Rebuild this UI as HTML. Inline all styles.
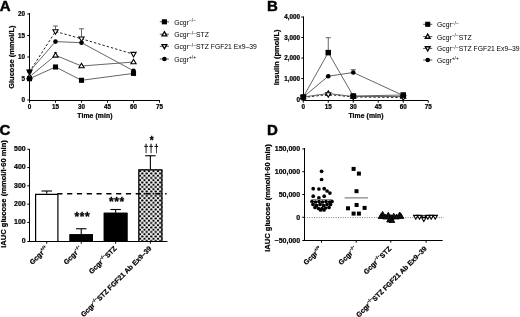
<!DOCTYPE html>
<html><head><meta charset="utf-8"><style>
html,body{margin:0;padding:0;background:#fff;width:520px;height:317px;overflow:hidden}
svg{display:block}
</style></head><body>
<svg width="520" height="317" viewBox="0 0 520 317" font-family='"Liberation Sans", Arial, sans-serif'>
<rect width="520" height="317" fill="#fff"/>
<defs><pattern id="chk" x="140" y="180.2" width="4.49" height="4.5" patternUnits="userSpaceOnUse"><rect width="4.49" height="4.5" fill="#fff"/><circle cx="0" cy="0" r="1.2" fill="#000"/><circle cx="4.49" cy="0" r="1.2" fill="#000"/><circle cx="0" cy="4.5" r="1.2" fill="#000"/><circle cx="4.49" cy="4.5" r="1.2" fill="#000"/><circle cx="2.245" cy="2.25" r="1.2" fill="#000"/></pattern></defs>
<text x="-0.3" y="10.5" font-size="15" font-weight="bold" text-anchor="start" stroke="#000" stroke-width="0.45">A</text>
<line x1="29.5" y1="13" x2="29.5" y2="101.0" stroke="#000" stroke-width="1"/>
<line x1="29.0" y1="100.5" x2="160" y2="100.5" stroke="#000" stroke-width="1"/>
<line x1="27.3" y1="100.0" x2="29.5" y2="100.0" stroke="#000" stroke-width="1"/>
<text x="25.1" y="102.1" font-size="6.3" font-weight="bold" text-anchor="end"  stroke="#000" stroke-width="0.22">0</text>
<line x1="27.3" y1="78.5" x2="29.5" y2="78.5" stroke="#000" stroke-width="1"/>
<text x="25.1" y="80.6" font-size="6.3" font-weight="bold" text-anchor="end"  stroke="#000" stroke-width="0.22">5</text>
<line x1="27.3" y1="57.0" x2="29.5" y2="57.0" stroke="#000" stroke-width="1"/>
<text x="25.1" y="59.1" font-size="6.3" font-weight="bold" text-anchor="end"  stroke="#000" stroke-width="0.22">10</text>
<line x1="27.3" y1="35.5" x2="29.5" y2="35.5" stroke="#000" stroke-width="1"/>
<text x="25.1" y="37.6" font-size="6.3" font-weight="bold" text-anchor="end"  stroke="#000" stroke-width="0.22">15</text>
<line x1="27.3" y1="14.0" x2="29.5" y2="14.0" stroke="#000" stroke-width="1"/>
<text x="25.1" y="16.1" font-size="6.3" font-weight="bold" text-anchor="end"  stroke="#000" stroke-width="0.22">20</text>
<line x1="29.5" y1="100.5" x2="29.5" y2="102.7" stroke="#000" stroke-width="1"/>
<text x="29.5" y="109.0" font-size="6.3" font-weight="bold" text-anchor="middle"  stroke="#000" stroke-width="0.22">0</text>
<line x1="55.5" y1="100.5" x2="55.5" y2="102.7" stroke="#000" stroke-width="1"/>
<text x="55.5" y="109.0" font-size="6.3" font-weight="bold" text-anchor="middle"  stroke="#000" stroke-width="0.22">15</text>
<line x1="81.5" y1="100.5" x2="81.5" y2="102.7" stroke="#000" stroke-width="1"/>
<text x="81.5" y="109.0" font-size="6.3" font-weight="bold" text-anchor="middle"  stroke="#000" stroke-width="0.22">30</text>
<line x1="107.5" y1="100.5" x2="107.5" y2="102.7" stroke="#000" stroke-width="1"/>
<text x="107.5" y="109.0" font-size="6.3" font-weight="bold" text-anchor="middle"  stroke="#000" stroke-width="0.22">45</text>
<line x1="133.5" y1="100.5" x2="133.5" y2="102.7" stroke="#000" stroke-width="1"/>
<text x="133.5" y="109.0" font-size="6.3" font-weight="bold" text-anchor="middle"  stroke="#000" stroke-width="0.22">60</text>
<line x1="159.5" y1="100.5" x2="159.5" y2="102.7" stroke="#000" stroke-width="1"/>
<text x="159.5" y="109.0" font-size="6.3" font-weight="bold" text-anchor="middle"  stroke="#000" stroke-width="0.22">75</text>
<text x="94.9" y="118.0" font-size="6.8" font-weight="bold" text-anchor="middle" letter-spacing="0.1" stroke="#000" stroke-width="0.22">Time (min)</text>
<text x="0" y="0" font-size="7.5" font-weight="bold" text-anchor="middle" transform="translate(14.1,57.2) rotate(-90)" stroke="#000" stroke-width="0.22">Glucose (mmol/L)</text>
<polyline points="29.50,71.80 55.50,31.50 81.50,38.80 133.50,54.20" fill="none" stroke="#222" stroke-width="1.0" stroke-dasharray="2.4,2"/>
<polyline points="29.50,76.80 55.50,55.30 81.50,66.00 133.50,62.00" fill="none" stroke="#555" stroke-width="0.9"/>
<polyline points="29.50,71.50 55.50,41.60 81.50,42.70 133.50,70.80" fill="none" stroke="#555" stroke-width="0.9"/>
<polyline points="29.50,78.70 55.50,67.00 81.50,80.30 133.50,73.40" fill="none" stroke="#555" stroke-width="0.9"/>
<line x1="55.5" y1="31.5" x2="55.5" y2="26" stroke="#555" stroke-width="0.9"/>
<line x1="53.0" y1="26" x2="58.0" y2="26" stroke="#555" stroke-width="0.9"/>
<line x1="81.5" y1="38.8" x2="81.5" y2="28.8" stroke="#555" stroke-width="0.9"/>
<line x1="79.0" y1="28.8" x2="84.0" y2="28.8" stroke="#555" stroke-width="0.9"/>
<line x1="55.5" y1="55.3" x2="55.5" y2="52.5" stroke="#555" stroke-width="0.9"/>
<line x1="54.0" y1="52.5" x2="57.0" y2="52.5" stroke="#555" stroke-width="0.9"/>
<polygon points="29.50,74.09 32.10,78.61 26.90,78.61" fill="#fff" stroke="#000" stroke-width="1.1"/>
<polygon points="55.50,52.59 58.10,57.11 52.90,57.11" fill="#fff" stroke="#000" stroke-width="1.1"/>
<polygon points="81.50,63.29 84.10,67.81 78.90,67.81" fill="#fff" stroke="#000" stroke-width="1.1"/>
<polygon points="133.50,59.29 136.10,63.81 130.90,63.81" fill="#fff" stroke="#000" stroke-width="1.1"/>
<polygon points="29.50,74.51 32.10,69.99 26.90,69.99" fill="#fff" stroke="#000" stroke-width="1.1"/>
<polygon points="55.50,34.21 58.10,29.69 52.90,29.69" fill="#fff" stroke="#000" stroke-width="1.1"/>
<polygon points="81.50,41.51 84.10,36.99 78.90,36.99" fill="#fff" stroke="#000" stroke-width="1.1"/>
<polygon points="133.50,56.91 136.10,52.39 130.90,52.39" fill="#fff" stroke="#000" stroke-width="1.1"/>
<circle cx="29.50" cy="71.50" r="2.3" fill="#000"/>
<circle cx="55.50" cy="41.60" r="2.3" fill="#000"/>
<circle cx="81.50" cy="42.70" r="2.3" fill="#000"/>
<circle cx="133.50" cy="70.80" r="2.3" fill="#000"/>
<rect x="26.95" y="76.15" width="5.1" height="5.1" fill="#000"/>
<rect x="52.95" y="64.45" width="5.1" height="5.1" fill="#000"/>
<rect x="78.95" y="77.75" width="5.1" height="5.1" fill="#000"/>
<rect x="130.95" y="70.85" width="5.1" height="5.1" fill="#000"/>
<line x1="159.8" y1="21.8" x2="169.0" y2="21.8" stroke="#444" stroke-width="0.9"/>
<rect x="161.85" y="19.25" width="5.1" height="5.1" fill="#000"/>
<line x1="159.8" y1="34.2" x2="169.0" y2="34.2" stroke="#444" stroke-width="0.9"/>
<polygon points="164.40,31.69 166.80,35.87 162.00,35.87" fill="#fff" stroke="#000" stroke-width="1.3"/>
<line x1="159.8" y1="46.3" x2="169.0" y2="46.3" stroke="#444" stroke-width="0.9"/>
<polygon points="164.40,48.81 166.80,44.63 162.00,44.63" fill="#fff" stroke="#000" stroke-width="1.3"/>
<line x1="159.8" y1="59" x2="169.0" y2="59" stroke="#444" stroke-width="0.9"/>
<circle cx="164.40" cy="59.00" r="2.3" fill="#000"/>
<text x="174.2" y="24.7" font-size="6.8" font-weight="normal" text-anchor="start" >Gcgr<tspan dy="-2.58" font-size="4.90">−/−</tspan></text>
<text x="174.2" y="37.1" font-size="6.8" font-weight="normal" text-anchor="start" >Gcgr<tspan dy="-2.58" font-size="4.90">−/−</tspan><tspan dy="2.58">STZ</tspan></text>
<text x="174.2" y="49.199999999999996" font-size="6.8" font-weight="normal" text-anchor="start" >Gcgr<tspan dy="-2.58" font-size="4.90">−/−</tspan><tspan dy="2.58">STZ FGF21 Ex9–39</tspan></text>
<text x="174.2" y="61.9" font-size="6.8" font-weight="normal" text-anchor="start" >Gcgr<tspan dy="-2.58" font-size="4.90">+/+</tspan></text>
<text x="267" y="10.6" font-size="15" font-weight="bold" text-anchor="start" stroke="#000" stroke-width="0.45">B</text>
<line x1="303.5" y1="16.5" x2="303.5" y2="101.0" stroke="#000" stroke-width="1"/>
<line x1="303.0" y1="100.5" x2="428" y2="100.5" stroke="#000" stroke-width="1"/>
<line x1="301.3" y1="100.0" x2="303.5" y2="100.0" stroke="#000" stroke-width="1"/>
<text x="300.0" y="102.1" font-size="6.3" font-weight="bold" text-anchor="end"  stroke="#000" stroke-width="0.22">0</text>
<line x1="301.3" y1="78.5" x2="303.5" y2="78.5" stroke="#000" stroke-width="1"/>
<text x="300.0" y="80.6" font-size="6.3" font-weight="bold" text-anchor="end"  stroke="#000" stroke-width="0.22">1,000</text>
<line x1="301.3" y1="58.0" x2="303.5" y2="58.0" stroke="#000" stroke-width="1"/>
<text x="300.0" y="60.1" font-size="6.3" font-weight="bold" text-anchor="end"  stroke="#000" stroke-width="0.22">2,000</text>
<line x1="301.3" y1="37.5" x2="303.5" y2="37.5" stroke="#000" stroke-width="1"/>
<text x="300.0" y="39.6" font-size="6.3" font-weight="bold" text-anchor="end"  stroke="#000" stroke-width="0.22">3,000</text>
<line x1="301.3" y1="17.0" x2="303.5" y2="17.0" stroke="#000" stroke-width="1"/>
<text x="300.0" y="19.1" font-size="6.3" font-weight="bold" text-anchor="end"  stroke="#000" stroke-width="0.22">4,000</text>
<line x1="303.25" y1="100.5" x2="303.25" y2="102.7" stroke="#000" stroke-width="1"/>
<text x="303.25" y="109.0" font-size="6.3" font-weight="bold" text-anchor="middle"  stroke="#000" stroke-width="0.22">0</text>
<line x1="328.25" y1="100.5" x2="328.25" y2="102.7" stroke="#000" stroke-width="1"/>
<text x="328.25" y="109.0" font-size="6.3" font-weight="bold" text-anchor="middle"  stroke="#000" stroke-width="0.22">15</text>
<line x1="353.25" y1="100.5" x2="353.25" y2="102.7" stroke="#000" stroke-width="1"/>
<text x="353.25" y="109.0" font-size="6.3" font-weight="bold" text-anchor="middle"  stroke="#000" stroke-width="0.22">30</text>
<line x1="378.25" y1="100.5" x2="378.25" y2="102.7" stroke="#000" stroke-width="1"/>
<text x="378.25" y="109.0" font-size="6.3" font-weight="bold" text-anchor="middle"  stroke="#000" stroke-width="0.22">45</text>
<line x1="403.25" y1="100.5" x2="403.25" y2="102.7" stroke="#000" stroke-width="1"/>
<text x="403.25" y="109.0" font-size="6.3" font-weight="bold" text-anchor="middle"  stroke="#000" stroke-width="0.22">60</text>
<line x1="428.25" y1="100.5" x2="428.25" y2="102.7" stroke="#000" stroke-width="1"/>
<text x="428.25" y="109.0" font-size="6.3" font-weight="bold" text-anchor="middle"  stroke="#000" stroke-width="0.22">75</text>
<text x="366.1" y="117.6" font-size="6.8" font-weight="bold" text-anchor="middle" letter-spacing="0.1" stroke="#000" stroke-width="0.22">Time (min)</text>
<text x="0" y="0" font-size="7.5" font-weight="bold" text-anchor="middle" transform="translate(279,57.4) rotate(-90)" stroke="#000" stroke-width="0.22">Insulin (pmol/L)</text>
<polyline points="303.25,97.50 328.25,94.50 353.25,97.00 403.25,97.50" fill="none" stroke="#222" stroke-width="1.0" stroke-dasharray="2.4,2"/>
<polyline points="303.25,97.00 328.25,93.50 353.25,96.50 403.25,96.50" fill="none" stroke="#555" stroke-width="0.9"/>
<polyline points="303.25,97.00 328.25,76.20 353.25,72.50 403.25,95.50" fill="none" stroke="#555" stroke-width="0.9"/>
<polyline points="303.25,97.00 328.25,52.60 353.25,96.00 403.25,95.00" fill="none" stroke="#555" stroke-width="0.9"/>
<line x1="328.25" y1="52.6" x2="328.25" y2="37.7" stroke="#555" stroke-width="0.9"/>
<line x1="325.75" y1="37.7" x2="330.75" y2="37.7" stroke="#555" stroke-width="0.9"/>
<line x1="353.25" y1="72.5" x2="353.25" y2="69.7" stroke="#555" stroke-width="0.9"/>
<line x1="350.75" y1="69.7" x2="355.75" y2="69.7" stroke="#555" stroke-width="0.9"/>
<polygon points="303.25,94.29 305.85,98.81 300.65,98.81" fill="#fff" stroke="#000" stroke-width="1.1"/>
<polygon points="328.25,90.79 330.85,95.31 325.65,95.31" fill="#fff" stroke="#000" stroke-width="1.1"/>
<polygon points="353.25,93.79 355.85,98.31 350.65,98.31" fill="#fff" stroke="#000" stroke-width="1.1"/>
<polygon points="403.25,93.79 405.85,98.31 400.65,98.31" fill="#fff" stroke="#000" stroke-width="1.1"/>
<polygon points="303.25,100.21 305.85,95.69 300.65,95.69" fill="#fff" stroke="#000" stroke-width="1.1"/>
<polygon points="328.25,97.21 330.85,92.69 325.65,92.69" fill="#fff" stroke="#000" stroke-width="1.1"/>
<polygon points="353.25,99.71 355.85,95.19 350.65,95.19" fill="#fff" stroke="#000" stroke-width="1.1"/>
<polygon points="403.25,100.21 405.85,95.69 400.65,95.69" fill="#fff" stroke="#000" stroke-width="1.1"/>
<circle cx="303.25" cy="97.00" r="2.3" fill="#000"/>
<circle cx="328.25" cy="76.20" r="2.3" fill="#000"/>
<circle cx="353.25" cy="72.50" r="2.3" fill="#000"/>
<circle cx="403.25" cy="95.50" r="2.3" fill="#000"/>
<rect x="300.50" y="94.25" width="5.5" height="5.5" fill="#000"/>
<rect x="325.50" y="49.85" width="5.5" height="5.5" fill="#000"/>
<rect x="350.50" y="93.25" width="5.5" height="5.5" fill="#000"/>
<rect x="400.50" y="92.25" width="5.5" height="5.5" fill="#000"/>
<line x1="423.09999999999997" y1="24.3" x2="432.3" y2="24.3" stroke="#444" stroke-width="0.9"/>
<rect x="425.15" y="21.75" width="5.1" height="5.1" fill="#000"/>
<line x1="423.09999999999997" y1="36.6" x2="432.3" y2="36.6" stroke="#444" stroke-width="0.9"/>
<polygon points="427.70,34.09 430.10,38.27 425.30,38.27" fill="#fff" stroke="#000" stroke-width="1.3"/>
<line x1="423.09999999999997" y1="48.4" x2="432.3" y2="48.4" stroke="#444" stroke-width="0.9"/>
<polygon points="427.70,50.91 430.10,46.73 425.30,46.73" fill="#fff" stroke="#000" stroke-width="1.3"/>
<line x1="423.09999999999997" y1="60.0" x2="432.3" y2="60.0" stroke="#444" stroke-width="0.9"/>
<circle cx="427.70" cy="60.00" r="2.3" fill="#000"/>
<text x="437" y="27.2" font-size="6.8" font-weight="normal" text-anchor="start" >Gcgr<tspan dy="-2.58" font-size="4.90">−/−</tspan></text>
<text x="437" y="39.5" font-size="6.8" font-weight="normal" text-anchor="start" >Gcgr<tspan dy="-2.58" font-size="4.90">−/−</tspan><tspan dy="2.58">STZ</tspan></text>
<text x="437" y="51.3" font-size="6.8" font-weight="normal" text-anchor="start" >Gcgr<tspan dy="-2.58" font-size="4.90">−/−</tspan><tspan dy="2.58">STZ FGF21 Ex9–39</tspan></text>
<text x="437" y="62.9" font-size="6.8" font-weight="normal" text-anchor="start" >Gcgr<tspan dy="-2.58" font-size="4.90">+/+</tspan></text>
<text x="-0.6" y="135.1" font-size="15" font-weight="bold" text-anchor="start" stroke="#000" stroke-width="0.45">C</text>
<line x1="29.5" y1="149" x2="29.5" y2="242.0" stroke="#000" stroke-width="1"/>
<line x1="29.0" y1="241.5" x2="167.5" y2="241.5" stroke="#000" stroke-width="1"/>
<line x1="27.3" y1="241.5" x2="29.5" y2="241.5" stroke="#000" stroke-width="1"/>
<text x="25.7" y="242.65" font-size="7" font-weight="bold" text-anchor="end"  stroke="#000" stroke-width="0.22">0</text>
<line x1="27.3" y1="222.45" x2="29.5" y2="222.45" stroke="#000" stroke-width="1"/>
<text x="25.7" y="224.35" font-size="7" font-weight="bold" text-anchor="end"  stroke="#000" stroke-width="0.22">100</text>
<line x1="27.3" y1="204.15" x2="29.5" y2="204.15" stroke="#000" stroke-width="1"/>
<text x="25.7" y="206.05" font-size="7" font-weight="bold" text-anchor="end"  stroke="#000" stroke-width="0.22">200</text>
<line x1="27.3" y1="185.85" x2="29.5" y2="185.85" stroke="#000" stroke-width="1"/>
<text x="25.7" y="187.75" font-size="7" font-weight="bold" text-anchor="end"  stroke="#000" stroke-width="0.22">300</text>
<line x1="27.3" y1="167.55" x2="29.5" y2="167.55" stroke="#000" stroke-width="1"/>
<text x="25.7" y="169.45000000000002" font-size="7" font-weight="bold" text-anchor="end"  stroke="#000" stroke-width="0.22">400</text>
<line x1="27.3" y1="149.25" x2="29.5" y2="149.25" stroke="#000" stroke-width="1"/>
<text x="25.7" y="151.15" font-size="7" font-weight="bold" text-anchor="end"  stroke="#000" stroke-width="0.22">500</text>
<text x="0" y="0" font-size="7.6" font-weight="bold" text-anchor="middle" transform="translate(5.9,194) rotate(-90)" stroke="#000" stroke-width="0.22">iAUC glucose (mmol/l·60 min)</text>
<line x1="46.75" y1="193.75" x2="46.75" y2="191" stroke="#000" stroke-width="1.1"/>
<line x1="41.5" y1="191" x2="52.0" y2="191" stroke="#000" stroke-width="1.1"/>
<rect x="35" y="193.75" width="23.5" height="47.25" fill="#fff"/>
<path d="M35.6,241.0 V194.35 H57.9 V241.0" fill="none" stroke="#000" stroke-width="1.2"/>
<line x1="46.75" y1="241.5" x2="46.75" y2="243.7" stroke="#000" stroke-width="1"/>
<line x1="81.25" y1="234.25" x2="81.25" y2="228.75" stroke="#000" stroke-width="1.1"/>
<line x1="76.0" y1="228.75" x2="86.5" y2="228.75" stroke="#000" stroke-width="1.1"/>
<rect x="69.5" y="234.25" width="23.5" height="6.75" fill="#000"/>
<path d="M70.1,241.0 V234.85 H92.4 V241.0" fill="none" stroke="#000" stroke-width="1.2"/>
<line x1="81.25" y1="241.5" x2="81.25" y2="243.7" stroke="#000" stroke-width="1"/>
<line x1="115.625" y1="212.75" x2="115.625" y2="209.5" stroke="#000" stroke-width="1.1"/>
<line x1="110.375" y1="209.5" x2="120.875" y2="209.5" stroke="#000" stroke-width="1.1"/>
<rect x="103.75" y="212.75" width="23.75" height="28.25" fill="#000"/>
<path d="M104.35,241.0 V213.35 H126.9 V241.0" fill="none" stroke="#000" stroke-width="1.2"/>
<line x1="115.625" y1="241.5" x2="115.625" y2="243.7" stroke="#000" stroke-width="1"/>
<line x1="150.375" y1="169.25" x2="150.375" y2="155.75" stroke="#000" stroke-width="1.1"/>
<line x1="145.125" y1="155.75" x2="155.625" y2="155.75" stroke="#000" stroke-width="1.1"/>
<rect x="138.25" y="169.25" width="24.25" height="71.75" fill="url(#chk)"/>
<path d="M138.85,241.0 V169.85 H161.9 V241.0" fill="none" stroke="#000" stroke-width="1.2"/>
<line x1="150.375" y1="241.5" x2="150.375" y2="243.7" stroke="#000" stroke-width="1"/>
<line x1="57.3" y1="193.8" x2="166.5" y2="193.8" stroke="#000" stroke-width="1.6" stroke-dasharray="5.2,4.6"/>
<text x="82.4" y="221.3" font-size="12" font-weight="bold" text-anchor="middle" letter-spacing="0.6" stroke="#000" stroke-width="0.3">***</text>
<text x="116.9" y="205.9" font-size="12" font-weight="bold" text-anchor="middle" letter-spacing="0.6" stroke="#000" stroke-width="0.3">***</text>
<text x="0" y="0" font-size="10" font-weight="normal" text-anchor="middle" letter-spacing="1.3" stroke="#000" stroke-width="0.35" transform="translate(151.7,151.8) scale(0.75,1)">†††</text>
<text x="151.6" y="143.6" font-size="10" font-weight="bold" text-anchor="middle" stroke="#000" stroke-width="0.3">*</text>
<text x="0" y="0" font-size="7" font-weight="bold" text-anchor="end" transform="translate(48.5,249) rotate(-45)" stroke="#000" stroke-width="0.22">Gcgr<tspan dy="-3.15" font-size="4.34">+/+</tspan></text>
<text x="0" y="0" font-size="7" font-weight="bold" text-anchor="end" transform="translate(82.5,249) rotate(-45)" stroke="#000" stroke-width="0.22">Gcgr<tspan dy="-3.15" font-size="4.34">−/−</tspan></text>
<text x="0" y="0" font-size="7" font-weight="bold" text-anchor="end" transform="translate(117,249) rotate(-45)" stroke="#000" stroke-width="0.22">Gcgr<tspan dy="-3.15" font-size="4.34">−/−</tspan><tspan dy="3.15">STZ</tspan></text>
<text x="0" y="0" font-size="7" font-weight="bold" text-anchor="end" transform="translate(152,249) rotate(-45)" stroke="#000" stroke-width="0.22">Gcgr<tspan dy="-3.15" font-size="4.34">−/−</tspan><tspan dy="3.15">STZ FGF21 Ab Ex9–39</tspan></text>
<text x="267" y="135.1" font-size="15" font-weight="bold" text-anchor="start" stroke="#000" stroke-width="0.45">D</text>
<line x1="304.5" y1="148" x2="304.5" y2="241.0" stroke="#000" stroke-width="1"/>
<line x1="304.0" y1="240.5" x2="442.7" y2="240.5" stroke="#000" stroke-width="1"/>
<line x1="302.3" y1="148.9" x2="304.5" y2="148.9" stroke="#000" stroke-width="1"/>
<text x="300.1" y="151.3" font-size="7" font-weight="bold" text-anchor="end"  stroke="#000" stroke-width="0.22">150,000</text>
<line x1="302.3" y1="171.70000000000002" x2="304.5" y2="171.70000000000002" stroke="#000" stroke-width="1"/>
<text x="300.1" y="174.10000000000002" font-size="7" font-weight="bold" text-anchor="end"  stroke="#000" stroke-width="0.22">100,000</text>
<line x1="302.3" y1="194.5" x2="304.5" y2="194.5" stroke="#000" stroke-width="1"/>
<text x="300.1" y="196.9" font-size="7" font-weight="bold" text-anchor="end"  stroke="#000" stroke-width="0.22">50,000</text>
<line x1="302.3" y1="217.3" x2="304.5" y2="217.3" stroke="#000" stroke-width="1"/>
<text x="300.1" y="219.70000000000002" font-size="7" font-weight="bold" text-anchor="end"  stroke="#000" stroke-width="0.22">0</text>
<line x1="302.3" y1="240.5" x2="304.5" y2="240.5" stroke="#000" stroke-width="1"/>
<text x="300.1" y="242.9" font-size="7" font-weight="bold" text-anchor="end"  stroke="#000" stroke-width="0.22">−50,000</text>
<text x="0" y="0" font-size="7.6" font-weight="bold" text-anchor="middle" transform="translate(269.6,198) rotate(-90)" stroke="#000" stroke-width="0.22">iAUC glucose (mmol/l·60 min)</text>
<line x1="304.5" y1="217.6" x2="444" y2="217.6" stroke="#333" stroke-width="0.8" stroke-dasharray="0.8,1.6"/>
<line x1="321.5" y1="240.5" x2="321.5" y2="242.7" stroke="#000" stroke-width="1"/>
<line x1="356.2" y1="240.5" x2="356.2" y2="242.7" stroke="#000" stroke-width="1"/>
<line x1="390.8" y1="240.5" x2="390.8" y2="242.7" stroke="#000" stroke-width="1"/>
<line x1="426.1" y1="240.5" x2="426.1" y2="242.7" stroke="#000" stroke-width="1"/>
<circle cx="321.60" cy="171.30" r="1.85" fill="#000"/>
<circle cx="321.60" cy="179.50" r="1.85" fill="#000"/>
<circle cx="313.20" cy="188.70" r="1.85" fill="#000"/>
<circle cx="318.90" cy="189.00" r="1.85" fill="#000"/>
<circle cx="324.20" cy="188.70" r="1.85" fill="#000"/>
<circle cx="327.10" cy="191.00" r="1.85" fill="#000"/>
<circle cx="329.90" cy="193.10" r="1.85" fill="#000"/>
<circle cx="313.20" cy="196.20" r="1.85" fill="#000"/>
<circle cx="318.90" cy="197.80" r="1.85" fill="#000"/>
<circle cx="324.20" cy="196.20" r="1.85" fill="#000"/>
<circle cx="312.00" cy="201.50" r="1.85" fill="#000"/>
<circle cx="315.50" cy="202.00" r="1.85" fill="#000"/>
<circle cx="319.00" cy="201.50" r="1.85" fill="#000"/>
<circle cx="322.50" cy="202.00" r="1.85" fill="#000"/>
<circle cx="326.00" cy="201.50" r="1.85" fill="#000"/>
<circle cx="329.50" cy="202.00" r="1.85" fill="#000"/>
<circle cx="332.00" cy="201.50" r="1.85" fill="#000"/>
<circle cx="313.00" cy="204.50" r="1.85" fill="#000"/>
<circle cx="316.50" cy="205.50" r="1.85" fill="#000"/>
<circle cx="320.00" cy="204.50" r="1.85" fill="#000"/>
<circle cx="323.50" cy="205.50" r="1.85" fill="#000"/>
<circle cx="327.00" cy="204.50" r="1.85" fill="#000"/>
<circle cx="330.50" cy="204.50" r="1.85" fill="#000"/>
<circle cx="315.00" cy="207.50" r="1.85" fill="#000"/>
<circle cx="318.50" cy="208.50" r="1.85" fill="#000"/>
<circle cx="322.00" cy="208.50" r="1.85" fill="#000"/>
<circle cx="325.50" cy="208.00" r="1.85" fill="#000"/>
<circle cx="329.00" cy="207.50" r="1.85" fill="#000"/>
<circle cx="320.50" cy="210.00" r="1.85" fill="#000"/>
<circle cx="324.00" cy="210.00" r="1.85" fill="#000"/>
<line x1="311.3" y1="199.5" x2="332.6" y2="199.5" stroke="#888" stroke-width="1"/>
<rect x="351.60" y="166.90" width="4.0" height="4.0" fill="#000"/>
<rect x="356.90" y="171.60" width="4.0" height="4.0" fill="#000"/>
<rect x="354.50" y="189.20" width="4.0" height="4.0" fill="#000"/>
<rect x="346.00" y="206.30" width="4.0" height="4.0" fill="#000"/>
<rect x="354.60" y="203.00" width="4.0" height="4.0" fill="#000"/>
<rect x="362.60" y="205.90" width="4.0" height="4.0" fill="#000"/>
<rect x="351.60" y="211.60" width="4.0" height="4.0" fill="#000"/>
<rect x="356.90" y="211.60" width="4.0" height="4.0" fill="#000"/>
<line x1="344.7" y1="197.9" x2="368" y2="197.9" stroke="#666" stroke-width="1"/>
<polygon points="382.60,211.38 385.40,216.25 379.80,216.25" fill="#111" stroke="#000" stroke-width="0.9"/>
<polygon points="388.30,212.28 391.10,217.15 385.50,217.15" fill="#111" stroke="#000" stroke-width="0.9"/>
<polygon points="393.70,213.28 396.50,218.15 390.90,218.15" fill="#111" stroke="#000" stroke-width="0.9"/>
<polygon points="399.70,211.98 402.50,216.85 396.90,216.85" fill="#111" stroke="#000" stroke-width="0.9"/>
<polygon points="381.00,213.58 383.80,218.45 378.20,218.45" fill="#111" stroke="#000" stroke-width="0.9"/>
<polygon points="385.50,214.08 388.30,218.95 382.70,218.95" fill="#111" stroke="#000" stroke-width="0.9"/>
<polygon points="391.00,214.58 393.80,219.45 388.20,219.45" fill="#111" stroke="#000" stroke-width="0.9"/>
<polygon points="396.50,214.08 399.30,218.95 393.70,218.95" fill="#111" stroke="#000" stroke-width="0.9"/>
<polygon points="401.00,213.58 403.80,218.45 398.20,218.45" fill="#111" stroke="#000" stroke-width="0.9"/>
<polygon points="389.50,217.08 392.30,221.95 386.70,221.95" fill="#111" stroke="#000" stroke-width="0.9"/>
<polygon points="392.00,217.58 394.80,222.45 389.20,222.45" fill="#111" stroke="#000" stroke-width="0.9"/>
<polygon points="415.80,219.20 418.00,215.37 413.60,215.37" fill="#fff" stroke="#000" stroke-width="1.1"/>
<polygon points="419.50,219.20 421.70,215.37 417.30,215.37" fill="#fff" stroke="#000" stroke-width="1.1"/>
<polygon points="423.80,219.60 426.00,215.77 421.60,215.77" fill="#fff" stroke="#000" stroke-width="1.1"/>
<polygon points="427.80,219.20 430.00,215.37 425.60,215.37" fill="#fff" stroke="#000" stroke-width="1.1"/>
<polygon points="431.20,219.20 433.40,215.37 429.00,215.37" fill="#fff" stroke="#000" stroke-width="1.1"/>
<polygon points="435.20,219.20 437.40,215.37 433.00,215.37" fill="#fff" stroke="#000" stroke-width="1.1"/>
<polygon points="423.80,221.50 426.00,217.67 421.60,217.67" fill="#fff" stroke="#000" stroke-width="1.1"/>
<text x="0" y="0" font-size="7" font-weight="bold" text-anchor="end" transform="translate(322.3,249.3) rotate(-45)" stroke="#000" stroke-width="0.22">Gcgr<tspan dy="-3.15" font-size="4.34">+/+</tspan></text>
<text x="0" y="0" font-size="7" font-weight="bold" text-anchor="end" transform="translate(357.3,249.3) rotate(-45)" stroke="#000" stroke-width="0.22">Gcgr<tspan dy="-3.15" font-size="4.34">−/−</tspan></text>
<text x="0" y="0" font-size="7" font-weight="bold" text-anchor="end" transform="translate(391.8,249.3) rotate(-45)" stroke="#000" stroke-width="0.22">Gcgr<tspan dy="-3.15" font-size="4.34">−/−</tspan><tspan dy="3.15">STZ</tspan></text>
<text x="0" y="0" font-size="7" font-weight="bold" text-anchor="end" transform="translate(427.3,249.3) rotate(-45)" stroke="#000" stroke-width="0.22">Gcgr<tspan dy="-3.15" font-size="4.34">−/−</tspan><tspan dy="3.15">STZ FGF21 Ab Ex9–39</tspan></text>
</svg>
</body></html>
